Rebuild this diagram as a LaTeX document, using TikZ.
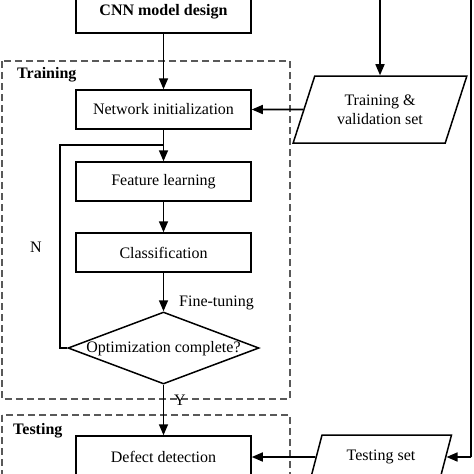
\documentclass[tikz,border=0pt]{standalone}
\usepackage{fontspec}
\setmainfont{Liberation Serif}
\usetikzlibrary{shapes.geometric,arrows.meta}
\begin{document}
\begin{tikzpicture}[x=1pt,y=-1pt,
  every node/.style={font=\fontsize{16}{19}\selectfont},
  box/.style={draw, line width=1.5pt, minimum width=175pt, minimum height=39pt, inner sep=0pt},
  para/.style={draw, line width=1.5pt, trapezium, trapezium left angle=64.5, trapezium right angle=115.5, trapezium stretches=true, inner sep=0pt, align=center},
  dec/.style={draw, line width=1.5pt, diamond, aspect=2.65, inner sep=0pt, minimum width=191pt, minimum height=72pt, text height=10pt, text depth=2pt},
  arr/.style={line width=1.6pt, -{Triangle[length=11pt,width=9pt]}},
  ln/.style={line width=1.6pt},
  grp/.style={draw=black!65, line width=1.1pt, dash pattern=on 7pt off 4pt},
  bold/.style={font=\bfseries\fontsize{16}{19}\selectfont}
]
\useasboundingbox (0,0) rectangle (474,474);
% group frames
\draw[grp] (2,61) rectangle (290,399);
\draw[grp] (2,415) rectangle (290,490);
\node[bold, anchor=west, inner sep=0pt] (trl) at (17,75) {Training};
\node[bold, anchor=west, inner sep=0pt] (tel) at (13,431) {Testing};
% nodes
\node[box, bold, minimum height=42pt] (cnn) at (163.5,12) {CNN model design};
\node[box] (init) at (163.5,109.5) {Network initialization};
\node[box] (feat) at (163.5,181.5) {Feature learning};
\node[box] (cls) at (163.5,252.5) {Classification};
\node[dec] (opt) at (163.5,348) {Optimization complete?};
\node[box, minimum height=42pt] (det) at (163.5,457) {Defect detection};
\node[para, minimum width=174pt, minimum height=67pt] (tv) at (380,109.5) {Training \&\\validation set};
\node[para, minimum width=142pt, minimum height=44pt] (ts) at (381,457) {Testing set};
% helper coordinates
\coordinate (tvtop) at (380,-5);
\coordinate (rtop) at (471,-5);
\coordinate (rturn) at (471,457);
\coordinate (nl) at (60,348);
\coordinate (nt) at (60,145);
\coordinate (nj) at (163.5,145);
% connectors
\draw[arr] (cnn) -- (init);
\draw[arr] (tvtop) -- (tv);
\draw[arr] (tv) -- (init);
\draw[arr] (init) -- (feat);
\draw[arr] (feat) -- (cls);
\draw[arr] (cls) -- (opt);
\node[anchor=west, inner sep=0pt] (ft) at (179,303) {Fine-tuning};
\draw[ln] (opt.west) -- (nl) -- (nt) -- (nj);
\node[inner sep=0pt] (nlab) at (36,247) {N};
\draw[arr] (opt) -- (det);
\node[inner sep=0pt] (ylab) at (180,400) {Y};
\draw[ln] (rtop) -- (rturn);
\draw[arr] (rturn) -- (ts);
\draw[arr] (ts) -- (det);
\end{tikzpicture}
\end{document}
